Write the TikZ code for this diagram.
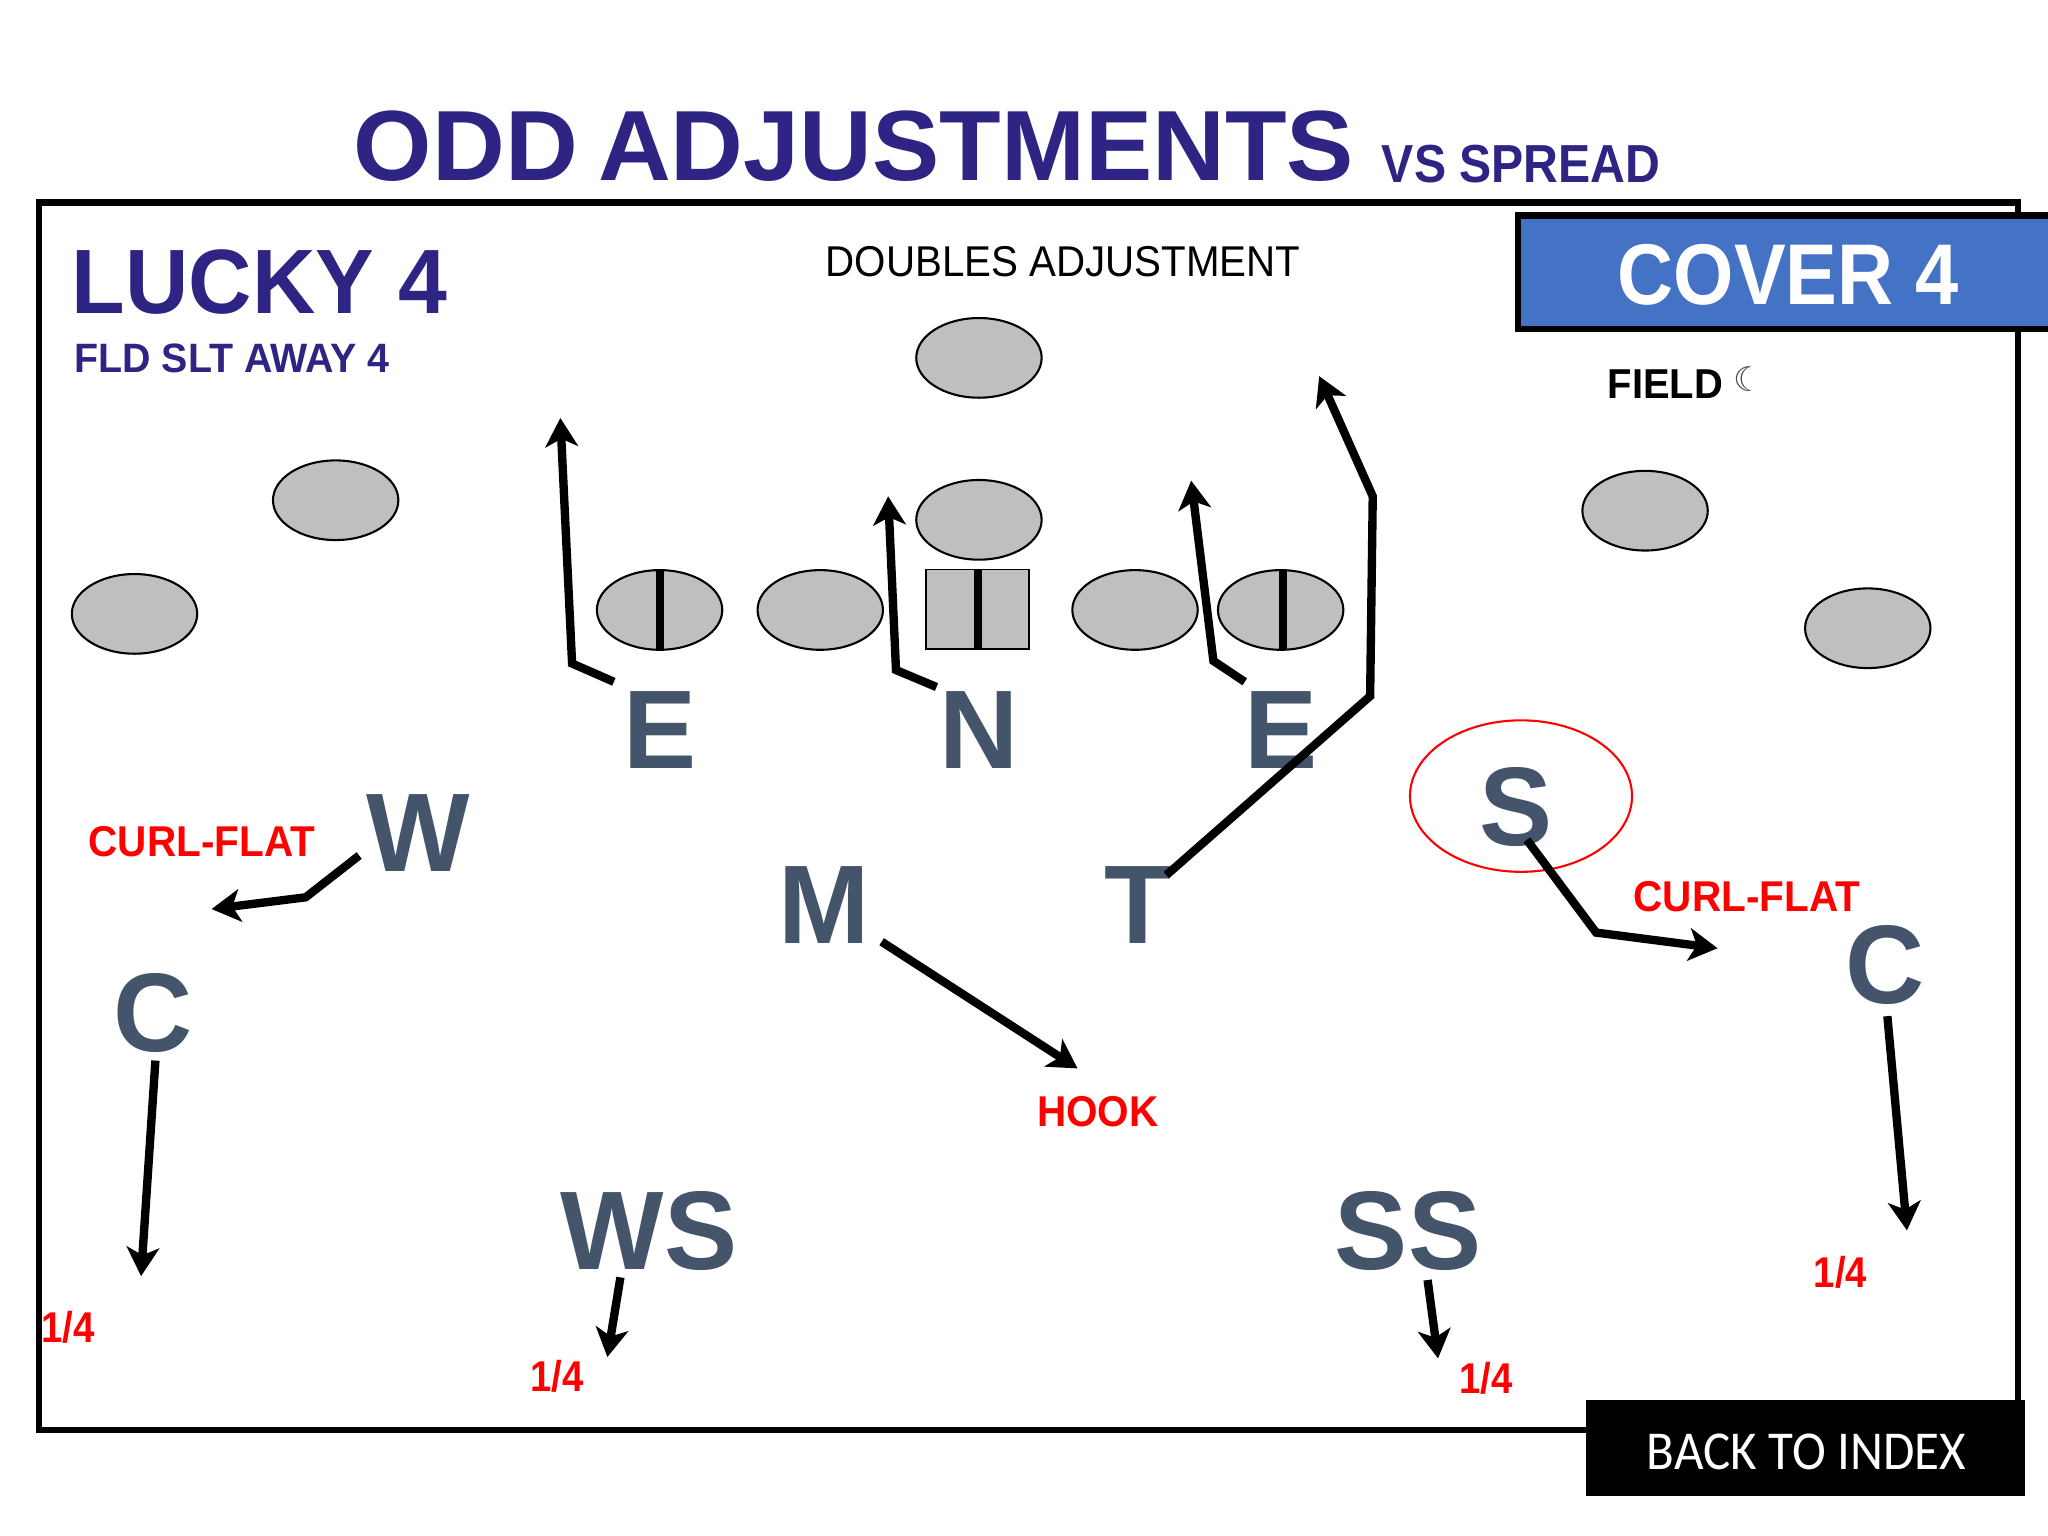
\documentclass[tikz,border=0pt]{standalone}
\usepackage{fontspec}
\setmainfont{Liberation Sans}
\newfontfamily\carl{Carlito}
\newfontfamily\dejav{DejaVu Sans}
\usetikzlibrary{arrows.meta,shapes.geometric}
\definecolor{titleblue}{HTML}{2E2483}
\definecolor{slate}{HTML}{44546A}
\definecolor{coverblue}{HTML}{4472C4}
\definecolor{playergray}{HTML}{BFBFBF}
\definecolor{labelred}{HTML}{FF0000}
\newcommand{\fs}[2]{\fontsize{#1}{#1}\selectfont\addfontfeature{FakeStretch=#2}}
\tikzset{
  every node/.style={inner sep=0pt,outer sep=0pt},
  player/.style={ellipse,draw=black,line width=0.8pt,fill=playergray,minimum width=48pt,minimum height=30.5pt},
  center box/.style={rectangle,draw=black,line width=0.7pt,fill=playergray,minimum width=39.5pt,minimum height=30.5pt},
  bar/.style={line width=3pt,black},
  letter/.style={anchor=base,text=slate,font=\bfseries\fs{42.8}{0.98}},
  redlabel/.style={anchor=base,text=labelred,font=\bfseries\fs{16.5}{0.94}},
  quarter/.style={anchor=base,text=labelred,font=\bfseries\fs{16.5}{0.89}},
  route/.style={line width=3.2pt,black,line join=miter,-{Stealth[length=11pt,width=12.5pt,inset=3pt]}}
}
\begin{document}
\begin{tikzpicture}[x=0.5pt,y=-0.5pt]
\useasboundingbox (0,0) rectangle (1568,1176);
\fill[white] (0,0) rectangle (1568,1176);
% frame
\draw[line width=2.4pt,black] (30,155) rectangle (1545,1095);
% titles
\node[anchor=base west,text=titleblue,font=\bfseries\fs{38.2}{1.01}] (title) at (271,138) {ODD\hspace{-3pt} ADJUSTMENTS};
\node[anchor=base west,text=titleblue,font=\bfseries\fs{20.5}{0.9}] (subtitle) at (1058,140) {VS SPREAD};
\node[anchor=base west,text=titleblue,font=\bfseries\fs{35}{0.96}] (lucky) at (55,240) {LUCKY 4};
\node[anchor=base west,text=titleblue,font=\bfseries\fs{15.7}{0.96}] (fld) at (57,285.5) {FLD SLT AWAY 4};
\node[anchor=base,text=black,font=\fs{16.5}{0.935}] (doubles) at (814,212) {DOUBLES ADJUSTMENT};
% cover box
\draw[line width=2.4pt,black,fill=coverblue] (1162,165) rectangle (1590,252);
\node[anchor=base,text=white,font=\bfseries\fs{33}{0.9}] (cover) at (1369,233.5) {COVER 4};
\node[anchor=base west,text=black,font=\bfseries\fs{16}{0.955}] (field) at (1231,305) {FIELD};
\node[anchor=base west,text=black!70,font=\dejav\fontsize{13}{13}\selectfont] (moon) at (1327,300) {☾};
% offense
\node[player] (p1) at (749.5,274) {};
\node[player] (p2) at (257,383) {};
\node[player] (p3) at (103,470) {};
\node[player] (p4) at (505,467) {};
\node[player] (p5) at (628,467) {};
\node[player] (p6) at (749.5,398) {};
\node[player] (p7) at (869,467) {};
\node[player] (p8) at (980.5,467) {};
\node[player] (p9) at (1259.5,391) {};
\node[player] (p10) at (1430,481) {};
\node[center box] (ctr) at (748.5,466.5) {};
\draw[bar] (p4.north) -- (p4.south);
\draw[bar] (ctr.north) -- (ctr.south);
\draw[bar] ([xshift=1pt]p8.north) -- ([xshift=1pt]p8.south);
% defenders
\node[letter] (e1) at (505,588) {E};
\node[letter] (n) at (749.5,588) {N};
\node[letter] (e2) at (980.5,588) {E};
\node[letter] (s) at (1161,647) {S};
\node[letter] (w) at (320.5,667) {W};
\node[letter] (m) at (631,722) {M};
\node[letter] (t) at (871,722) {T};
\node[letter] (c1) at (117,805) {C};
\node[letter] (c2) at (1443.5,768) {C};
\node[letter] (ws) at (497,972) {WS};
\node[letter] (ss) at (1078,972) {SS};
% highlight
\node[ellipse,draw=labelred,line width=0.8pt,minimum width=85pt,minimum height=58pt] (ring) at (1164.5,609.5) {};
% labels
\node[redlabel] (cf1) at (154.5,656) {CURL-FLAT};
\node[redlabel] (cf2) at (1337.5,698) {CURL-FLAT};
\node[redlabel] (hook) at (840.5,862.5) {HOOK};
\node[quarter] (q1) at (52,1028) {1/4};
\node[quarter] (q2) at (426.5,1065) {1/4};
\node[quarter] (q3) at (1409,986) {1/4};
\node[quarter] (q4) at (1137.5,1067) {1/4};
% route coordinates
\coordinate (e1a) at (470,522); \coordinate (e1b) at (438,508); \coordinate (e1c) at (429,320);
\coordinate (na) at (717,526); \coordinate (nb) at (686,513); \coordinate (nc) at (680,380);
\coordinate (e2a) at (953,522); \coordinate (e2b) at (929,506); \coordinate (e2c) at (912,368);
\coordinate (ta) at (893,670); \coordinate (tb) at (1049,533); \coordinate (tc) at (1051,380); \coordinate (td) at (1010,288);
\coordinate (wa) at (275,655); \coordinate (wb) at (234,687); \coordinate (wc) at (162,696);
\coordinate (sa) at (1169,643); \coordinate (sb) at (1222,714); \coordinate (sc) at (1315,726);
\coordinate (ma) at (675,721); \coordinate (mb) at (825,818);
\coordinate (c1a) at (119,812); \coordinate (c1b) at (108,977);
\coordinate (c2a) at (1445,778); \coordinate (c2b) at (1460,942);
\coordinate (wsa) at (475,978); \coordinate (wsb) at (465,1039);
\coordinate (ssa) at (1093,980); \coordinate (ssb) at (1101,1040);
% routes
\draw[route] (e1a) -- (e1b) -- (e1c);
\draw[route] (na) -- (nb) -- (nc);
\draw[route] (e2a) -- (e2b) -- (e2c);
\draw[route] (ta) -- (tb) -- (tc) -- (td);
\draw[route] (wa) -- (wb) -- (wc);
\draw[route] (sa) -- (sb) -- (sc);
\draw[route] (ma) -- (mb);
\draw[route] (c1a) -- (c1b);
\draw[route] (c2a) -- (c2b);
\draw[route] (wsa) -- (wsb);
\draw[route] (ssa) -- (ssb);
% back to index
\node[rectangle,fill=black,minimum width=168pt,minimum height=37pt] (back) at (1382.5,1108.5) {};
\node[anchor=base,text=white,font=\carl\fs{21}{0.93}] (backtxt) at (1383,1125) {BACK TO INDEX};
\end{tikzpicture}
\end{document}
